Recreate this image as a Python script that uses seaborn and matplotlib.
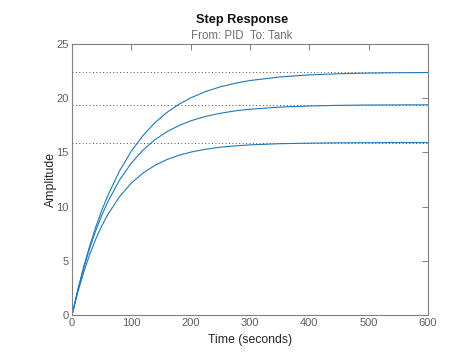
import matplotlib
matplotlib.use("Agg")
import matplotlib.pyplot as plt
import seaborn as sns
import pandas as pd

time_s = [0, 10, 20, 30, 40, 50, 60, 80, 100, 120, 140, 160, 180, 200, 225, 250,
          275, 300, 350, 400, 450, 500, 550, 600]
resp_high = [0, 2.38, 4.51, 6.41, 8.11, 9.63, 10.98, 13.28, 15.12, 16.58, 17.75, 18.69,
             19.43, 20.03, 20.61, 21.05, 21.38, 21.63, 21.96, 22.15, 22.26, 22.32, 22.35, 22.37]
resp_mid = [0, 2.33, 4.39, 6.19, 7.78, 9.18, 10.41, 12.44, 14.02, 15.23, 16.18, 16.91,
            17.47, 17.91, 18.32, 18.61, 18.83, 18.98, 19.18, 19.28, 19.34, 19.37, 19.38, 19.39]
resp_low = [0, 2.15, 4.00, 5.61, 7.00, 8.20, 9.24, 10.91, 12.17, 13.11, 13.81, 14.34,
            14.73, 15.02, 15.29, 15.48, 15.60, 15.69, 15.80, 15.85, 15.88, 15.89, 15.90, 15.90]
final_values = [22.4, 19.4, 15.9]
x_ticks = [0, 100, 200, 300, 400, 500, 600]
y_ticks = [0, 5, 10, 15, 20, 25]

sns.set_style("white")
plt.rcParams['font.family'] = ['Liberation Sans', 'DejaVu Sans']

df = pd.DataFrame({
    "t": time_s * 3,
    "y": resp_high + resp_mid + resp_low,
    "sys": ["high"] * len(time_s) + ["mid"] * len(time_s) + ["low"] * len(time_s),
})

fig = plt.figure(figsize=(4.74, 3.55), dpi=100)
ax = fig.add_axes([0.152, 0.113, 0.751, 0.763])

line_c = "#1f77b8"
for fv in final_values:
    ax.plot([0, 600], [fv, fv], linestyle=(0, (1, 2.5)), color="#4a4a4a", linewidth=0.7, zorder=1)

sns.lineplot(data=df, x="t", y="y", hue="sys", palette=[line_c] * 3, legend=False,
             linewidth=0.8, ax=ax, zorder=2)

ax.set_xlim(0, 600)
ax.set_ylim(0, 25)
ax.set_xticks(x_ticks)
ax.set_yticks(y_ticks)
axis_c = "#808080"
for s in ax.spines.values():
    s.set_color(axis_c)
    s.set_linewidth(0.8)
ax.tick_params(direction="in", length=4, width=0.7, color=axis_c, labelcolor="#606060",
               labelsize=8, top=True, right=True, pad=2.5)
ax.set_xlabel("Time (seconds)", fontsize=8.8, color="#262626")
ax.set_ylabel("Amplitude", fontsize=8.8, color="#262626")
ax.yaxis.set_label_coords(-0.043, 0.5)
ax.xaxis.set_label_coords(0.5, -0.072)

fig.text(0.5105, 0.944, "Step Response", ha="center", va="center", fontsize=9.2,
         fontweight="bold", color="#111111")
fig.text(0.5105, 0.899, "From: PID  To: Tank", ha="center", va="center", fontsize=8.3,
         color="#707070")

fig.savefig("out.png", dpi=100)
